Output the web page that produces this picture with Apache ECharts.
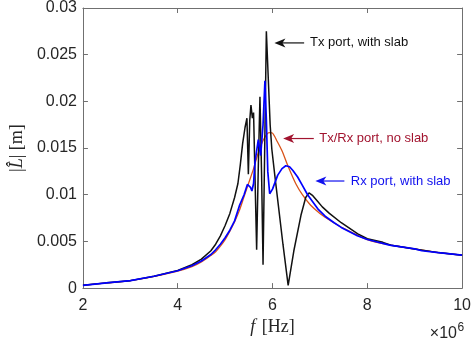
<!DOCTYPE html>
<html><head><meta charset="utf-8">
<script src="https://cdn.jsdelivr.net/npm/echarts/dist/echarts.min.js"></script>
<style>html,body{margin:0;padding:0;background:#fff}#c{width:474px;height:341px}</style>
</head><body><div id="c"></div>
<script>
// ---- data ----
const xTicks = [2, 4, 6, 8, 10];
const yTickLabels = ['0', '0.005', '0.01', '0.015', '0.02', '0.025', '0.03'];

const seriesNames = ['Tx/Rx port, no slab', 'Tx port, with slab', 'Rx port, with slab'];

// Tx/Rx port, no slab (orange)
const fOrange = [2.0,2.5,3.0,3.5,4.0,4.3,4.5,4.7,4.8,4.9,5.0,5.1,5.2,5.3,5.4,5.5,5.6,5.7,5.8,5.9,5.95,6.0,6.1,6.2,6.3,6.4,6.5,6.63,6.8,7.0,7.2,7.5,8.0,8.5,9.0,9.5,10.0];
const lOrange = [0.0003,0.00055,0.0008,0.00125,0.00182,0.0023,0.0028,0.0035,0.0039,0.0045,0.0052,0.0061,0.0071,0.0083,0.0098,0.0113,0.0128,0.0145,0.0158,0.0166,0.01665,0.0166,0.0157,0.0147,0.0134,0.0122,0.0111,0.0100,0.0089,0.0080,0.0073,0.0064,0.0052,0.0046,0.0042,0.0038,0.00353];

// Tx port, with slab (black)
const fBlack = [2.0,2.5,3.0,3.5,4.0,4.3,4.5,4.7,4.8,4.9,5.0,5.1,5.2,5.27,5.32,5.37,5.42,5.46,5.49,5.52,5.545,5.575,5.6,5.63,5.665,5.70,5.735,5.77,5.80,5.835,5.87,5.91,5.95,5.985,6.05,6.12,6.22,6.33,6.45,6.6,6.7,6.77,6.85,6.95,7.05,7.2,7.45,7.8,8.0,8.33,8.5,9.0,9.5,10.0];
const lBlack = [0.0003,0.00056,0.0008,0.00128,0.0019,0.0025,0.0031,0.0040,0.0047,0.0056,0.0067,0.0080,0.0097,0.0112,0.0132,0.0155,0.0172,0.0182,0.0122,0.0180,0.0196,0.0182,0.0188,0.0120,0.0041,0.0130,0.0205,0.0120,0.0025,0.0150,0.0275,0.0225,0.0175,0.0149,0.0120,0.0090,0.0047,0.0003,0.0040,0.0078,0.0097,0.0102,0.0099,0.0093,0.0087,0.0080,0.0070,0.0058,0.0053,0.0049,0.0046,0.0042,0.0038,0.00353];

// Rx port, with slab (blue)
const fBlue = [2.0,2.5,3.0,3.5,4.0,4.3,4.5,4.7,4.8,4.9,5.0,5.1,5.2,5.3,5.4,5.47,5.50,5.535,5.565,5.6,5.63,5.70,5.75,5.80,5.84,5.87,5.9,5.94,6.0,6.11,6.2,6.28,6.36,6.43,6.53,6.63,6.74,6.84,6.97,7.11,7.3,7.45,7.79,8.0,8.47,9.0,9.15,9.5,10.0];
const lBlue = [0.0003,0.00056,0.0008,0.00127,0.00186,0.0024,0.0029,0.0036,0.0041,0.0047,0.0054,0.0062,0.0072,0.0088,0.0100,0.0111,0.0113,0.0108,0.0104,0.0112,0.0135,0.0159,0.0142,0.0175,0.0222,0.0180,0.0125,0.0101,0.0106,0.0121,0.0128,0.0131,0.0130,0.0126,0.0119,0.0110,0.0100,0.0093,0.0084,0.0077,0.0070,0.0065,0.0056,0.0052,0.0046,0.0042,0.0040,0.0038,0.00353];

const annTexts = ['Tx port, with slab', 'Tx/Rx port, no slab', 'Rx port, with slab'];

// ---- chart ----
const pairs = (xs, ys) => xs.map((x, i) => [x, ys[i]]);
const axisColor = '#707070';
const labelFont = {color: '#262626', fontFamily: 'Liberation Sans, Arial, sans-serif', fontSize: 16};

const chart = echarts.init(document.getElementById('c'), null, {renderer: 'canvas'});
const baseX = {type: 'value', min: 2, max: 10, interval: 2,
  axisLine: {show: true, onZero: false, lineStyle: {color: axisColor, width: 1}},
  axisTick: {show: true, inside: true, length: 5, lineStyle: {color: axisColor}},
  splitLine: {show: false}};
const baseY = {type: 'value', min: 0, max: 0.03, interval: 0.005,
  axisLine: {show: true, onZero: false, lineStyle: {color: axisColor, width: 1}},
  axisTick: {show: true, inside: true, length: 5, lineStyle: {color: axisColor}},
  splitLine: {show: false}};

chart.setOption({
  animation: false,
  backgroundColor: '#fff',
  grid: {left: 73, right: 9, top: 6, bottom: 49, containLabel: false},
  xAxis: [
    Object.assign({}, baseX, {position: 'bottom',
      axisLabel: Object.assign({margin: 9, formatter: v => xTicks.includes(v) ? String(v) : ''}, labelFont),
      name: '{i|f}  {n|[Hz]}', nameLocation: 'middle', nameGap: 29,
      nameTextStyle: {rich: {
        i: {fontFamily: 'Liberation Serif, DejaVu Serif, serif', fontStyle: 'italic', fontSize: 18, color: '#262626'},
        n: {fontFamily: 'Liberation Serif, DejaVu Serif, serif', fontSize: 18, color: '#262626'}}}}),
    Object.assign({}, baseX, {position: 'top', axisLabel: {show: false}})
  ],
  yAxis: [
    Object.assign({}, baseY, {position: 'left',
      axisLabel: Object.assign({margin: 6, formatter: (v) => {
        const k = Math.round(v / 0.005); return yTickLabels[k] !== undefined ? yTickLabels[k] : '';}}, labelFont),
      name: '{n||}{i|L\u0302}{n|| [m]}', nameLocation: 'middle', nameGap: 51, nameRotate: 90,
      nameTextStyle: {rich: {
        i: {fontFamily: 'Liberation Serif, DejaVu Serif, serif', fontStyle: 'italic', fontSize: 18, color: '#262626'},
        n: {fontFamily: 'Liberation Serif, DejaVu Serif, serif', fontSize: 18, color: '#262626'}}}}),
    Object.assign({}, baseY, {position: 'right', axisLabel: {show: false}})
  ],
  series: [
    {name: seriesNames[0], type: 'line', data: pairs(fOrange, lOrange), showSymbol: false, smooth: 0.3,
      lineStyle: {color: '#D95319', width: 1.3}, z: 2},
    {name: seriesNames[1], type: 'line', data: pairs(fBlack, lBlack), showSymbol: false, smooth: false,
      lineStyle: {color: '#111111', width: 1.5}, z: 3},
    {name: seriesNames[2], type: 'line', data: pairs(fBlue, lBlue), showSymbol: false, smooth: false,
      lineStyle: {color: '#0000FF', width: 1.7}, z: 4}
  ]
});

// annotations: arrows + labels placed in data coordinates
const annLayout = [
  {color: '#111111', tip: [6.04, 0.02626], tail: [6.667, 0.02626], textAt: [6.79, 0.02626]},
  {color: '#A2142F', tip: [6.224, 0.01602], tail: [6.871, 0.01602], textAt: [6.986, 0.01602]},
  {color: '#1010EE', tip: [6.904, 0.01147], tail: [7.516, 0.01147], textAt: [7.653, 0.01147]}
];
const g = [];
annLayout.forEach((a, i) => {
  const p = chart.convertToPixel({xAxisIndex: 0, yAxisIndex: 0}, a.tip);
  const q = chart.convertToPixel({xAxisIndex: 0, yAxisIndex: 0}, a.tail);
  const t = chart.convertToPixel({xAxisIndex: 0, yAxisIndex: 0}, a.textAt);
  g.push({type: 'line', shape: {x1: p[0] + 6, y1: p[1], x2: q[0], y2: q[1]}, style: {stroke: a.color, lineWidth: 1.2}});
  g.push({type: 'polygon', shape: {points: [[p[0], p[1]], [p[0] + 11, p[1] - 4.5], [p[0] + 8, p[1]], [p[0] + 11, p[1] + 4.5]]},
    style: {fill: a.color}});
  g.push({type: 'text', x: t[0], y: t[1], style: {text: annTexts[i], fill: a.color, fontSize: 13,
    fontFamily: 'Liberation Sans, Arial, sans-serif', textAlign: 'left', textVerticalAlign: 'middle'}});
});
g.push({type: 'text', x: 457, y: 334, style: {text: '\u00d710', fill: '#262626', fontSize: 16,
  fontFamily: 'Liberation Sans, Arial, sans-serif', textAlign: 'right', textVerticalAlign: 'middle'}});
g.push({type: 'text', x: 457.5, y: 328, style: {text: '6', fill: '#262626', fontSize: 12,
  fontFamily: 'Liberation Sans, Arial, sans-serif', textAlign: 'left', textVerticalAlign: 'middle'}});
chart.setOption({graphic: g});
</script>
</body></html>
